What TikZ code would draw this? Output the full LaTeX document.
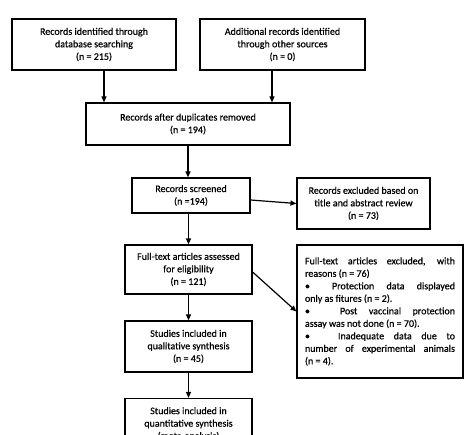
\documentclass[tikz,border=0pt]{standalone}
\usepackage{fontspec}
\setmainfont{Carlito}[FakeBold=0.5]
\usetikzlibrary{arrows.meta}
\tikzset{
  box/.style={draw=black, line width=1.2pt, align=center, inner sep=0pt,
    font=\fontsize{10}{12.5}\selectfont},
  arr/.style={draw=black, line width=1.2pt, -{Triangle[length=6pt,width=5pt]}}
}
\newcommand{\jl}[1]{\makebox[150pt][s]{#1}}
\begin{document}
\begin{tikzpicture}[x=1pt,y=1pt]
\useasboundingbox (0,0) rectangle (474,-434);
\clip (0,0) rectangle (474,-434);
\fill[white] (0,0) rectangle (474,-434);
\node[box, minimum width=164pt, minimum height=51pt] (b1) at (94,-44.5)
  {Records identified through\\database searching\\(n = 215)};
\node[box, minimum width=165pt, minimum height=51pt] (b2) at (282.5,-44.5)
  {Additional records identified\\through other sources\\(n = 0)};
\node[box, minimum width=204pt, minimum height=42pt] (b3) at (188,-124)
  {Records after duplicates removed\\(n = 194)};
\node[box, minimum width=118pt, minimum height=35pt] (b4) at (191,-195.5)
  {Records screened\\(n =194)};
\node[box, minimum width=133pt, minimum height=51pt] (b6) at (363.5,-203.5)
  {Records excluded based on\\title and abstract review\\(n = 73)};
\node[box, minimum width=127pt, minimum height=49pt] (b5) at (188.5,-269.5)
  {Full-text articles assessed\\for eligibility\\(n = 121)};
\node[box, minimum width=166pt, minimum height=133pt, align=left] (b9) at (380,-311.5)
  {\jl{Full-text articles excluded, with}\\
   reasons (n = 76)\\
   \jl{•\hspace{22pt}Protection data displayed}\\
   only as fitures (n = 2).\\
   \jl{•\hspace{30pt}Post vaccinal protection}\\
   assay was not done (n = 70).\\
   \jl{•\hspace{28pt}Inadequate data due to}\\
   \jl{number of experimental animals}\\
   (n = 4).};
\node[box, minimum width=127pt, minimum height=51pt] (b7) at (188.5,-346.5)
  {Studies included in\\qualitative synthesis\\(n = 45)};
\node[box, minimum width=127pt, minimum height=51pt] (b8) at (188.5,-424)
  {Studies included in\\quantitative synthesis\\(meta-analysis)};
\draw[arr] ([xshift=10pt]b1.south) -- ([xshift=10pt]b1.south |- b3.north);
\draw[arr] ([xshift=-10.5pt]b2.south) -- ([xshift=-10.5pt]b2.south |- b3.north);
\draw[arr] (b3.south) -- (b3.south |- b4.north);
\draw[arr] (b5.north |- b4.south) -- (b5.north);
\draw[arr] ([yshift=-4.5pt]b4.east) -- (b6.west);
\draw[arr] (b5.south) -- (b7.north);
\draw[arr] ([yshift=-2.5pt]b5.east) -- (b9.west);
\draw[arr] (b7.south) -- (b8.north);
\end{tikzpicture}
\end{document}
